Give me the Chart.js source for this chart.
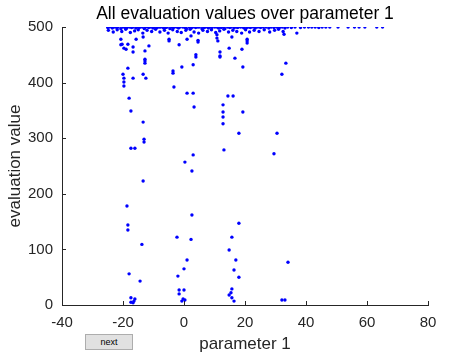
<!DOCTYPE html>
<html><head><meta charset="utf-8">
<script src="https://cdn.jsdelivr.net/npm/chart.js@4/dist/chart.umd.min.js"></script>
<style>
html,body{margin:0;padding:0;background:#fff;}
#wrap{position:relative;width:474px;height:355px;overflow:hidden;}
canvas{position:absolute;left:0;top:0;}
#next{position:absolute;left:85px;top:334px;width:48px;height:16px;box-sizing:border-box;background:#e1e1e1;border:1px solid #adadad;font:9px "Liberation Sans",Arial,sans-serif;color:#000;text-align:center;line-height:14px;}
</style></head>
<body><div id="wrap"><canvas id="c" width="474" height="355"></canvas><div id="next">next</div></div>
<script>
// ---- data (parameter 1 , evaluation value) ----
const bandAX = [-25,-24.4,-23.5,-22.9,-22.1,-21.6,-20.7,-20.0,-19.3,-18.8,
  -17.9,-17.2,-16.7,-15.8,-15.1,-14.6,-13.7,-13.0,-12.5,-11.6,
  -11.0,-10.2,-9.7,-8.8,-8.1,-7.6,-6.7,-6.0,-5.5,-4.6,
  -3.9,-3.4,-2.5,-1.8,-1.3,-0.4,0.3,0.8,1.7,2.4,
  2.9,3.8,4.5,5.0,5.9,6.6,7.1,8.0,8.7,9.2,
  10.1,10.8,11.3,12.2,12.9,13.4,14.3,15.0,15.5,16.4,
  17.1,17.6,18.5,19.2,19.7,20.6,21.3,21.8,22.7,23.4,
  24.2,25.1,26.0,26.9,27.8,28.6,29.5,30.4,31.3,32.2,
  33.1,34.0,35.2,36.4];
const bandAY = [499,500,498,500,499,500,497,500,499,498,
  500,499,500,498,500,499,500,497,500,499,
  500,498,500,499,500,500,498,499,500,497,
  500,499,500,498,500,500,499,497,500,498,
  500,499,500,500,497,499,500,498,500,499,
  500,500,498,499,500,497,500,499,500,498,
  500,499,500,500,498,499,500,499,500,498,
  500,499,500,500,498,500,499,500,499,500,
  498,500,499,500];
const bandBX = [-24.8,-23.2,-21.9,-20.4,-19.1,-17.6,-16.2,-15.0,-13.5,-12.1,
  -10.6,-9.3,-7.9,-6.4,-5.2,-3.7,-2.2,-0.9,0.6,2.0,
  3.3,4.8,6.2,7.7,9.0,10.4,11.7,13.1,14.6,16.0,
  17.3,18.9,20.2,21.5,23.0,24.6,26.3,28.1,29.7,31.0,32.5];
const bandBY = [494,491,495,492,496,490,493,495,489,494,
  492,496,491,494,489,495,492,490,494,496,
  491,489,494,492,495,490,493,496,491,494,
  492,489,495,491,494,492,495,491,494,496,492];
const sparseX = [38.2,39.5,40.8,41.9,43.0,44.2,45.3,46.5,47.8,50.5,53.8,55.9,57.4,59.3,63.2,65.1];
const sparseY = [499,500,500,500,500,499,500,500,500,500,500,500,500,500,500,500];
const leftX = [-20.7,-20.3,-20.7,-19.7,-18.4,-19.0,-16.7,-16.7,-15.7,-13.4,
  -11.5,-12.8,-12.8,-12.8,-12.8,-18.4,-20.0,-19.7,-19.7,-19.7,
  -16.7,-13.4,-12.5,-18.0,-17.4,-13.4,-13.1,-13.1,-17.4,-16.1,
  -13.4,-18.7,-18.4,-18.4,-13.8,-18.0,-14.4,-17.4,-16.1,-16.4,-16.7,-17.4];
const leftY = [478,469,468,462,469,460,464,455,478,482,
  466,457,442,439,435,426,415,408,401,394,
  408,415,408,372,349,329,298,293,282,282,
  223,178,144,135,109,56,43,13,11,7,4,5];
const midX = [-4.9,-4.9,-1.6,1.0,2.3,4.6,4.6,3.9,3.9,3.0,
  -0.7,-3.6,-3.6,-3.3,1.0,3.0,3.3,3.0,0.3,2.6,
  2.6,-2.3,2.3,1.0,0.0,-2.0,-1.6,0.0,-1.6,-0.3,0.3,-0.7];
const midY = [478,475,468,478,484,476,473,450,446,432,
  428,421,417,392,381,381,356,270,257,241,
  162,122,118,81,65,52,27,27,20,11,9,7];
const rightX = [10.8,10.8,11.1,14.8,15.7,19.0,20.7,20.7,20.7,11.8,
  11.8,11.8,16.7,19.3,14.4,16.1,12.8,12.8,12.8,12.8,
  19.3,18.0,13.1,18.0,15.7,14.8,17.0,16.4,18.0,15.7,
  15.4,14.8,15.7,16.4];
const rightY = [486,480,475,462,482,460,478,475,471,455,
  448,446,444,428,376,376,360,347,338,326,
  347,309,279,147,122,99,81,63,50,29,
  22,18,13,7];
const farX = [30.5,29.5,34.1,32.1,33.1,33.4,32.1,32.8,37.0];
const farY = [309,272,77,9,9,435,415,487,489];

const xTicks = [-40,-20,0,20,40,60,80];
const yTicks = [0,100,200,300,400,500];

function pts(xs, ys){ return xs.map((x,i)=>({x:x, y:ys[i]})); }
const allPoints = [].concat(
  pts(bandAX,bandAY), pts(bandBX,bandBY), pts(sparseX,sparseY),
  pts(leftX,leftY), pts(midX,midY), pts(rightX,rightY), pts(farX,farY));

const FONT = '"Liberation Sans", Arial, sans-serif';
const AX = '#262626';

const inwardTicks = {
  id:'inwardTicks',
  afterDatasetsDraw(chart){
    const {ctx, chartArea:a, scales:{x, y}} = chart;
    ctx.save();
    ctx.strokeStyle = AX; ctx.lineWidth = 1;
    ctx.beginPath();
    xTicks.forEach(v=>{ const p = Math.round(x.getPixelForValue(v))+0.5; ctx.moveTo(p, a.bottom); ctx.lineTo(p, a.bottom-4); });
    yTicks.forEach(v=>{ const p = Math.round(y.getPixelForValue(v))+0.5; ctx.moveTo(a.left, p); ctx.lineTo(a.left+4, p); });
    ctx.stroke();
    ctx.restore();
  }
};

new Chart(document.getElementById('c'), {
  type:'scatter',
  data:{ datasets:[{ data: allPoints, backgroundColor:'#0000ff', borderWidth:0, pointRadius:1.7, pointHoverRadius:1.7 }]},
  options:{
    responsive:false, animation:false,
    layout:{ padding:{ left:0, right:46, top:0, bottom:0 } },
    plugins:{
      legend:{ display:false }, tooltip:{ enabled:false },
      title:{ display:true, text:'All evaluation values over parameter 1', fullSize:false,
        color:'#000', font:{ family:FONT, size:17.5, weight:'normal' }, padding:{ top:4, bottom:2 } }
    },
    scales:{
      x:{ type:'linear', min:-40, max:80,
        afterBuildTicks: s => { s.ticks = xTicks.map(v=>({value:v})); },
        afterFit: s => { s.height = 50; },
        grid:{ display:false, drawTicks:false }, border:{ display:true, color:AX, width:1 },
        ticks:{ color:AX, font:{ family:FONT, size:15 }, padding:9, maxRotation:0 },
        title:{ display:true, text:'parameter 1', color:AX, font:{ family:FONT, size:17 }, padding:{ top:0, bottom:0 } }
      },
      y:{ type:'linear', min:0, max:500,
        afterBuildTicks: s => { s.ticks = yTicks.map(v=>({value:v})); },
        afterFit: s => { s.width = 62; },
        grid:{ display:false, drawTicks:false }, border:{ display:true, color:AX, width:1 },
        ticks:{ color:AX, font:{ family:FONT, size:15 }, padding:9 },
        title:{ display:true, text:'evaluation value', color:AX, font:{ family:FONT, size:17 }, padding:{ top:5, bottom:0 } }
      }
    }
  },
  plugins:[inwardTicks]
});
</script>
</body></html>
